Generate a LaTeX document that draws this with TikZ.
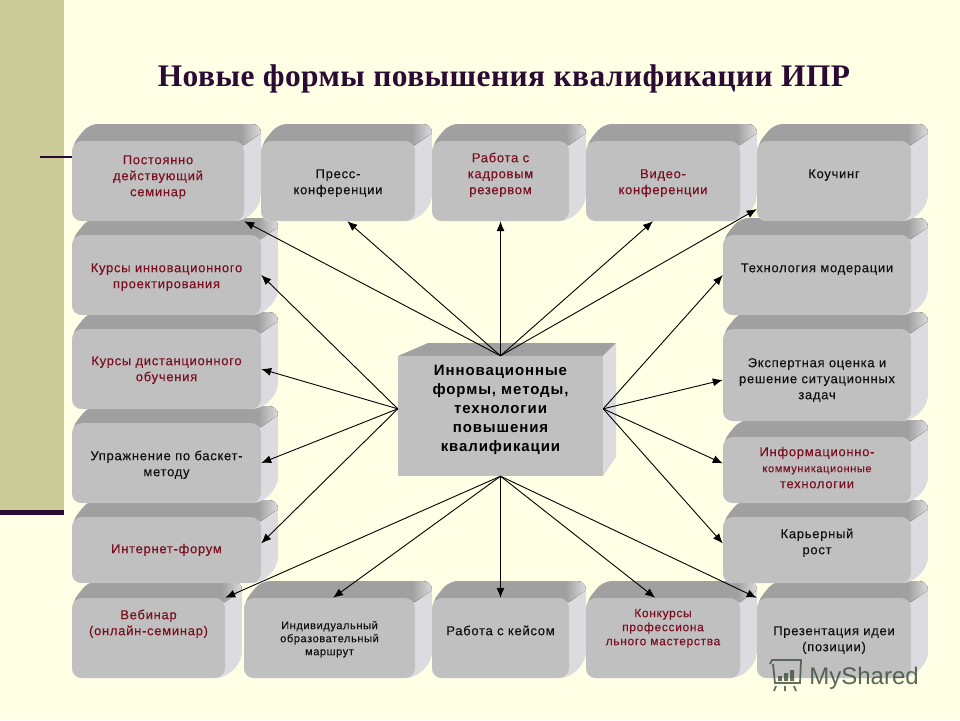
\documentclass[tikz,border=0pt]{standalone}
\usepackage{fontspec}
\setmainfont{Liberation Sans}
\newfontfamily\titlefont{Liberation Serif}
\newfontfamily\slabfont[FakeBold=0.2,LetterSpace=5.5]{Liberation Sans}
\usetikzlibrary{arrows.meta,calc}

\definecolor{paper}{HTML}{FFFFE6}
\definecolor{band}{HTML}{CCCC99}
\definecolor{plum}{HTML}{2B0B33}
\definecolor{facefront}{HTML}{C0C0C0}
\definecolor{facetop}{HTML}{A0A0A0}
\definecolor{faceside}{HTML}{DCDCE0}
\definecolor{wine}{HTML}{7A0F20}
\definecolor{ink}{HTML}{111111}
\definecolor{stamp}{HTML}{3F4F3F}

% text that does not change the size of its box
\newcommand{\slabtext}[2]{\makebox[0pt]{\raisebox{#1pt}[0pt][0pt]{\begin{tabular}{@{}c@{}}#2\end{tabular}}}}
\newcommand{\smallerA}{\fontsize{12}{14}\selectfont}
\newcommand{\smallerB}{\fontsize{11}{13}\selectfont}

\begin{document}
\begin{tikzpicture}[
    x=1pt, y=-1pt,
    %---- GLOBAL STYLE TWEAKS ----
    font=\slabfont\fontsize{13}{16}\selectfont,
    front/.style = {rectangle, fill=facefront, rounded corners=10pt, inner sep=0pt, align=center},
    arrow/.style = {-{Latex[length=10pt,width=8pt]}, black, line width=0.9pt},
]
\useasboundingbox (0,0) rectangle (960,720);
\fill[paper] (0,0) rectangle (960,720);

%---- LEFT BAND ----
\fill[band] (0,0) rectangle (64,510);
\fill[plum] (0,510) rectangle (64,515);
\draw[plum, line width=1.4pt] (40,157) -- (76,157);

\node (heading) [font=\titlefont\fontsize{31.4}{34}\selectfont\bfseries\addfontfeatures{LetterSpace=1.5}, text=plum] at (504,79)
    {Новые формы повышения квалификации ИПР};

%---- SLABS (lower ones first, upper ones lie on them) ----
\foreach \n/\xa/\ya/\xb/\yb/\c/\d/\t in {
  idea/757/598/911/678/ink/-5/{Презентация идеи\\(позиции)},
  contest/586/598/740/678/wine/7/{\smallerA Конкурсы\\[-2pt]\smallerA профессиона\\[-2pt]\smallerA льного мастерства},
  case/432/598/569/678/ink/3/{Работа с кейсом},
  route/244/598/415/678/ink/-4/{\smallerB Индивидуальный\\[-3pt]\smallerB образовательный\\[-3pt]\smallerB маршрут},
  webinar/72/598/225/678/wine/11/{Вебинар\\(онлайн-семинар)},
  forum/72/517/261/583/wine/-3/{Интернет-форум},
  career/723/517/911/583/ink/4/{Карьерный\\рост},
  info/723/437/911/503/wine/-2/{Информационно-\\\smallerB коммуникационные\\технологии},
  basket/72/423/261/503/ink/-5/{Упражнение по баскет-\\методу},
  expert/723/329/911/421/ink/-8/{Экспертная оценка и\\решение ситуационных\\задач},
  remote/72/329/261/409/wine/-4/{Курсы дистанционного\\обучения},
  moderation/723/235/911/315/ink/3/{Технология модерации},
  design/72/235/261/315/wine/-5/{Курсы инновационного\\проектирования},
  coach/757/141/911/221/ink/3/{Коучинг},
  video/586/141/740/221/wine/-5/{Видео-\\конференции},
  reserve/432/141/569/221/wine/3/{Работа с\\кадровым\\резервом},
  press/261/141/415/221/ink/-5/{Пресс-\\конференции},
  seminar/72/141/244/221/wine/1/{Постоянно\\действующий\\семинар}}
{
  \begin{scope}
    \clip[rounded corners=9pt] (\xa,\ya+4) -- (\xa+17,\ya-17) -- (\xb+17,\ya-17) -- (\xb+17,\yb-17) -- (\xb,\yb) -- (\xa,\yb) -- cycle;
    \fill[faceside] (\xa,\ya-17) rectangle (\xb+17,\yb);
    \fill[facetop] (\xa,\ya+4) rectangle (\xb-3,\ya-17);
    \fill[left color=facetop, right color=faceside] (\xb-3,\ya+4) -- (\xb-3,\ya-17) -- (\xb+17,\ya-17) -- (\xb+17,\ya-8) -- (\xb,\ya+4) -- cycle;
  \end{scope}
  \node (\n) [front, text=\c, minimum width=\xb-\xa, minimum height=\yb-\ya] at ({(\xa+\xb)/2},{(\ya+\yb)/2}) {\slabtext{\d}{\t}};
}

%---- CENTRE BLOCK ----
\fill[facetop] (398,356) -- (428,343) -- (616,343) -- (603,356) -- cycle;
\fill[faceside] (603,356) -- (616,343) -- (616,457) -- (603,476) -- cycle;
\node (hub) [fill=facefront, inner sep=0pt, minimum width=205, minimum height=120, text=black,
             font=\fontsize{15}{19}\selectfont\bfseries\addfontfeatures{LetterSpace=6}, align=center] at (500.5,416)
    {\slabtext{3}{Инновационные\\формы, методы,\\технологии\\повышения\\квалификации}};

%---- ARROWS ----
\foreach \a/\b in {
  hub.north/seminar.south east, hub.north/press.-77, hub.north/reserve.south,
  hub.north/video.-104, hub.north/coach.-160,
  hub.176/design.east, hub.176/remote.east, hub.176/basket.east, hub.176/forum.4,
  hub.4/moderation.west, hub.4/expert.183, hub.4/info.176, hub.4/career.176,
  hub.south/webinar.north east, hub.south/route.85, hub.south/case.north,
  hub.south/contest.101, hub.south/idea.north west}
  \draw[arrow] (\a) -- (\b);

%---- STAMP ----
\begin{scope}[stamp, opacity=0.8, line width=1.8pt]
  \draw (770,664) -- (772,660) -- (801,660) -- (800,683) -- (775,683) -- (773,664);
  \draw (776,686) -- (774,691) (785,686) -- (785,691) (794,686) -- (796,691);
  \fill (778,676) rectangle (782,681) (784,673) rectangle (788,681) (790,670) rectangle (794,681);
\end{scope}
\node (stamp) [text=stamp, opacity=0.85, inner sep=0pt, font=\fontsize{24}{28}\selectfont\setmainfont{Liberation Sans}\normalfont] at (864,678) {MyShared};
\end{tikzpicture}
\end{document}
